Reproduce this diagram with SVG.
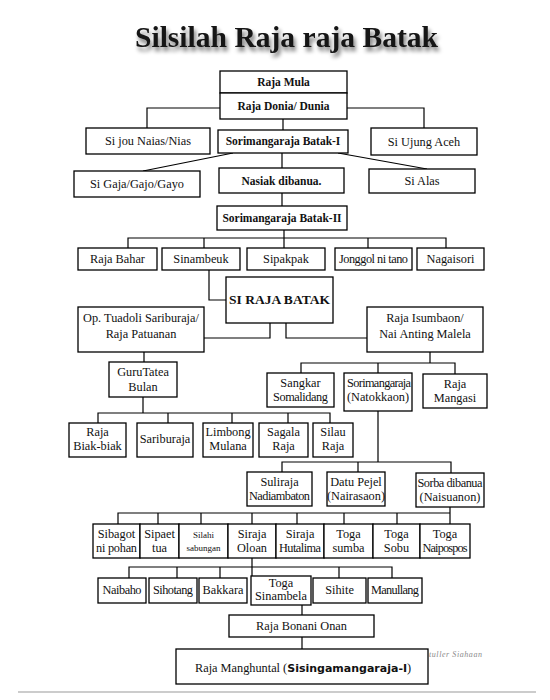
<svg xmlns="http://www.w3.org/2000/svg" width="550" height="700" viewBox="0 0 550 700">
<defs>
<filter id="sh" x="-10%" y="-40%" width="125%" height="190%">
<feGaussianBlur in="SourceAlpha" stdDeviation="2"/>
<feOffset dx="2" dy="4" result="o"/>
<feComponentTransfer in="o" result="s"><feFuncA type="linear" slope="0.55"/></feComponentTransfer>
<feMerge><feMergeNode in="s"/><feMergeNode in="SourceGraphic"/></feMerge>
</filter>
<style>
rect{fill:#fff;stroke:#000;stroke-width:1.3}
text{font-family:"Liberation Serif","DejaVu Serif",serif;font-size:12.3px;text-anchor:middle;fill:#111}
.b{font-weight:bold;font-size:11.5px}
#conn path{fill:none;stroke:#000;stroke-width:1.2}
</style>
</defs>
<rect x="0" y="0" width="550" height="700" style="fill:#fff;stroke:none"/>
<text x="135" y="47" filter="url(#sh)" style="font-size:30px;font-weight:bold;text-anchor:start;fill:#141414" textLength="303" lengthAdjust="spacingAndGlyphs">Silsilah Raja raja Batak</text>
<line x1="18" y1="692" x2="536" y2="692" stroke="#9a9a9a" stroke-width="1.2"/>
<text x="429" y="657" style="font-size:8px;font-style:italic;fill:#8a8a8a;text-anchor:start" textLength="53">tuller Siahaan</text>
<g id="conn">
<path d="M220,108 H147 V128 M347,108 H424 V128 M283,119 V130"/>
<path d="M233,153 L143,171 M338,153 L427,169 M282,153 V168 M282,193 V206"/>
<path d="M284,230 V238 M128,248 V238 H446 V248 M204,238 V248 M284,238 V248 M368,238 V248"/>
<path d="M209,270 V300 H226 M270,323 V338 H204 M286,323 V338 H367"/>
<path d="M144,352 V362 M430,352 V363 M301,373 V363 H455 V374 M378,363 V373"/>
<path d="M143,397 V413 M98,423 V413 H330 V423 M168,413 V423 M232,413 V423 M288,413 V423"/>
<path d="M378,411 V462 M282,472 V462 H451 V473 M358,462 V472"/>
<path d="M450,507 V513 M118,524 V513 H450 V524 M158,513 V524 M201,513 V524 M252,513 V524 M297,513 V524 M344,513 V524 M397,513 V524"/>
<path d="M252,558 V567 M129,578 V567 H392 V578 M177,567 V578 M220,567 V578 M252,567 V576 M339,567 V578"/>
<path d="M302,605 V615 M302,637 V649"/>
</g>
<g id="n-rajamula"><rect x="220" y="71" width="127" height="22"/><text class="b" x="283.5" y="86">Raja Mula</text></g>
<g id="n-rajadonia"><rect x="220" y="93" width="127" height="26"/><text class="b" x="283.5" y="110">Raja Donia/ Dunia</text></g>
<g id="n-sijou"><rect x="86" y="128" width="124" height="26"/><text x="148" y="145">Si jou Naias/Nias</text></g>
<g id="n-sori1"><rect x="218" y="130" width="130" height="23"/><text class="b" x="283" y="145">Sorimangaraja Batak-I</text></g>
<g id="n-siujung"><rect x="371" y="128" width="106" height="27"/><text x="424" y="146">Si Ujung Aceh</text></g>
<g id="n-sigaja"><rect x="74" y="171" width="126" height="26"/><text x="137" y="188">Si Gaja/Gajo/Gayo</text></g>
<g id="n-nasiak"><rect x="219" y="168" width="125" height="25"/><text class="b" x="281.5" y="185">Nasiak dibanua.</text></g>
<g id="n-sialas"><rect x="369" y="169" width="106" height="24"/><text x="422" y="185">Si Alas</text></g>
<g id="n-sori2"><rect x="217" y="206" width="130" height="24"/><text class="b" x="282" y="222">Sorimangaraja Batak-II</text></g>
<g id="n-rajabahar"><rect x="78" y="248" width="79" height="22"/><text x="117.5" y="263">Raja Bahar</text></g>
<g id="n-sinambeuk"><rect x="162" y="248" width="78" height="22"/><text x="201" y="263">Sinambeuk</text></g>
<g id="n-sipakpak"><rect x="247" y="248" width="78" height="22"/><text x="286" y="263">Sipakpak</text></g>
<g id="n-jonggol"><rect x="335" y="248" width="77" height="22"/><text x="373.5" y="263" textLength="69">Jonggol ni tano</text></g>
<g id="n-nagaisori"><rect x="417" y="248" width="67" height="22"/><text x="450.5" y="263">Nagaisori</text></g>
<g id="n-sirajabatak"><rect x="226" y="277" width="107" height="46"/><text class="b" x="279.5" y="304" style="font-size:13.5px">SI RAJA BATAK</text></g>
<g id="n-optuadoli"><rect x="78" y="307" width="126" height="45"/><text x="141" y="322">Op. Tuadoli Sariburaja/</text><text x="141" y="338">Raja Patuanan</text></g>
<g id="n-isumbaon"><rect x="367" y="307" width="116" height="45"/><text x="425" y="322">Raja Isumbaon/</text><text x="425" y="338">Nai Anting Malela</text></g>
<g id="n-gurutatea"><rect x="109" y="362" width="68" height="35"/><text x="143" y="376">GuruTatea</text><text x="143" y="391">Bulan</text></g>
<g id="n-sangkar"><rect x="267" y="373" width="67" height="34"/><text x="300.5" y="387">Sangkar</text><text x="300.5" y="401" textLength="55">Somalidang</text></g>
<g id="n-natokkaon"><rect x="344" y="373" width="68" height="38"/><text x="379" y="387" textLength="64">Sorimangaraja</text><text x="378" y="401">(Natokkaon)</text></g>
<g id="n-mangasi"><rect x="423" y="374" width="64" height="34"/><text x="455" y="388">Raja</text><text x="455" y="402">Mangasi</text></g>
<g id="n-biakbiak"><rect x="69" y="423" width="57" height="34"/><text x="97.5" y="436">Raja</text><text x="97.5" y="450">Biak-biak</text></g>
<g id="n-sariburaja"><rect x="137" y="423" width="56" height="34"/><text x="165" y="443">Sariburaja</text></g>
<g id="n-limbong"><rect x="203" y="423" width="50" height="34"/><text x="228" y="436">Limbong</text><text x="228" y="450">Mulana</text></g>
<g id="n-sagala"><rect x="259" y="423" width="49" height="34"/><text x="283.5" y="436">Sagala</text><text x="283.5" y="450">Raja</text></g>
<g id="n-silau"><rect x="313" y="423" width="40" height="34"/><text x="333" y="436">Silau</text><text x="333" y="450">Raja</text></g>
<g id="n-suliraja"><rect x="247" y="472" width="65" height="34"/><text x="279.5" y="486">Suliraja</text><text x="279.5" y="500" textLength="61">Nadiambaton</text></g>
<g id="n-datupejel"><rect x="327" y="472" width="58" height="34"/><text x="356" y="486">Datu Pejel</text><text x="356" y="500">(Nairasaon)</text></g>
<g id="n-sorba"><rect x="416" y="473" width="68" height="34"/><text x="450" y="487" textLength="65">Sorba dibanua</text><text x="450" y="501">(Naisuanon)</text></g>
<g id="n-sibagot"><rect x="93" y="524" width="47" height="34"/><text x="116.5" y="538">Sibagot</text><text x="116.5" y="552" textLength="41">ni pohan</text></g>
<g id="n-sipaet"><rect x="140" y="524" width="39" height="34"/><text x="159.5" y="538">Sipaet</text><text x="159.5" y="552">tua</text></g>
<g id="n-silahi"><rect x="179" y="524" width="49" height="34"/><text x="203.5" y="538" style="font-size:9px">Silahi</text><text x="203.5" y="551" style="font-size:9px">sabungan</text></g>
<g id="n-oloan"><rect x="228" y="524" width="48" height="34"/><text x="252" y="538">Siraja</text><text x="252" y="552">Oloan</text></g>
<g id="n-hutalima"><rect x="276" y="524" width="48" height="34"/><text x="300" y="538">Siraja</text><text x="300" y="552" textLength="42">Hutalima</text></g>
<g id="n-togasumba"><rect x="324" y="524" width="49" height="34"/><text x="348.5" y="538">Toga</text><text x="348.5" y="552">sumba</text></g>
<g id="n-togasobu"><rect x="373" y="524" width="47" height="34"/><text x="396.5" y="538">Toga</text><text x="396.5" y="552">Sobu</text></g>
<g id="n-naipospos"><rect x="420" y="524" width="50" height="34"/><text x="445" y="538">Toga</text><text x="445" y="552" textLength="45">Naipospos</text></g>
<g id="n-naibaho"><rect x="98" y="578" width="48" height="25"/><text x="122" y="594" textLength="39">Naibaho</text></g>
<g id="n-sihotang"><rect x="149" y="578" width="48" height="25"/><text x="173" y="594" textLength="40">Sihotang</text></g>
<g id="n-bakkara"><rect x="199" y="578" width="48" height="25"/><text x="223" y="594">Bakkara</text></g>
<g id="n-sinambela"><rect x="251" y="576" width="60" height="29"/><text x="281" y="587">Toga</text><text x="281" y="600">Sinambela</text></g>
<g id="n-sihite"><rect x="313" y="578" width="53" height="25"/><text x="339.5" y="594">Sihite</text></g>
<g id="n-manullang"><rect x="368" y="578" width="54" height="25"/><text x="395" y="594" textLength="48">Manullang</text></g>
<g id="n-bonani"><rect x="229" y="615" width="145" height="22"/><text x="301.5" y="630">Raja Bonani Onan</text></g>
<g id="n-manghuntal"><rect x="176" y="649" width="252" height="35"/><text x="195" y="672" style="text-anchor:start">Raja Manghuntal (<tspan style="font-family:'DejaVu Sans',sans-serif;font-weight:bold;font-size:11px">Sisingamangaraja-I</tspan>)</text></g>
</svg>
